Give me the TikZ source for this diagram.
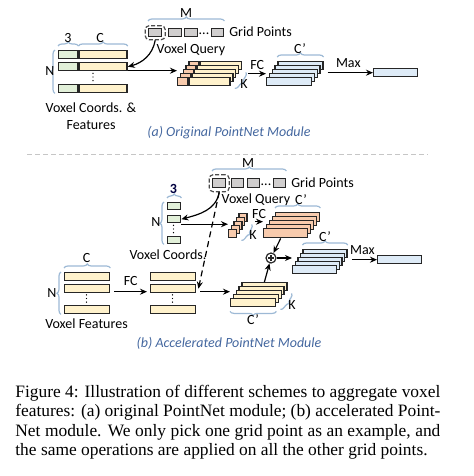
\documentclass[tikz,border=0pt]{standalone}
\usepackage{fontspec}
\setmainfont{Liberation Serif}
\setsansfont{Carlito}
\usepackage{xcolor}
\usepackage{tikz}
\usetikzlibrary{arrows.meta,decorations.pathreplacing}

\definecolor{featcol}{HTML}{FFF2CC}
\definecolor{coordcol}{HTML}{E2F0D9}
\definecolor{querycol}{HTML}{F8CBAD}
\definecolor{outcol}{HTML}{DEEBF7}
\definecolor{gridcol}{HTML}{D0CECE}
\definecolor{bracecol}{HTML}{9DB9D5}
\definecolor{capcol}{HTML}{44679F}
\newcommand{\pxu}{0.5pt}

\tikzset{
	box/.style={draw=black!85, line width=0.7pt, inner sep=0pt, anchor=north west},
	bar/.style 2 args={box, minimum width=#1*\pxu, minimum height=#2*\pxu},
	qbox/.style={draw=black!70, dash pattern=on 2pt off 1pt, line width=0.6pt, rounded corners=2pt, minimum width=20*\pxu, minimum height=14*\pxu, inner sep=0pt},
	lbl/.style={font=\sffamily\fontsize{7}{8.5}\selectfont, inner sep=0pt},
	brc/.style={decorate, decoration={brace, amplitude=2pt}, draw=bracecol, line width=0.6pt},
	arr/.style={->, line width=0.6pt},
	dotsv/.style={inner sep=0pt, minimum width=2pt, minimum height=6pt, path picture={\foreach \k in {-1,0,1} \fill ([yshift=\k*1.8pt]path picture bounding box.center) circle (0.35pt);}},
	plus/.style={circle, draw=black!85, line width=0.6pt, minimum size=10*\pxu, inner sep=0pt, path picture={\draw[line width=0.6pt] ([xshift=-1.5pt]path picture bounding box.center) -- ([xshift=1.5pt]path picture bounding box.center) ([yshift=-1.5pt]path picture bounding box.center) -- ([yshift=1.5pt]path picture bounding box.center);}}
}

\begin{document}
\begin{tikzpicture}[x=0.5pt, y=-0.5pt, >={Stealth[length=3.5pt,width=3pt]}]
	\useasboundingbox (0,0) rectangle (474,476);
	% (a) original module
	\foreach \k/\yy in {1/50, 2/62, 3/84} {
		\node[bar={19}{8}, fill=coordcol] (ca\k) at (58,\yy) {};
		\node[bar={48}{8}, fill=featcol] (fa\k) at (ca\k.north east) {};
	}
	\node[dotsv] (da) at (93,77) {};
	\draw[brc] ([yshift=2pt]ca1.north west) -- ([yshift=2pt]ca1.north east);
	\draw[brc] ([yshift=2pt]fa1.north west) -- ([yshift=2pt]fa1.north east);
	\node[lbl] (la3) at (68,38) {3};
	\node[lbl] (lac) at (100,38) {C};
	\draw[brc] ([xshift=-1.5pt]ca3.south west) -- ([xshift=-1.5pt]ca1.north west);
	\node[lbl] (lan) at (50,71) {N};
	\node[lbl, align=center] (lavc) at (91,116) {Voxel Coords. \&\\Features};

	\node[bar={13}{8}, fill=gridcol] (ga1) at (148,28) {};
	\node[bar={13}{8}, fill=gridcol] (ga2) at (168,28) {};
	\node[bar={13}{8}, fill=gridcol] (ga3) at (184,28) {};
	\node[lbl] (gad) at (204,34) {...};
	\node[bar={12}{8}, fill=gridcol] (ga4) at (211,28) {};
	\node[qbox] (qa) at (ga1.center) {};
	\draw[brc] ([yshift=3.5pt]ga1.north west) -- ([yshift=3.5pt]ga4.north east);
	\node[lbl] (lam) at (186,13) {M};
	\node[lbl, anchor=west] (lagp) at (229,32) {Grid Points};
	\node[lbl] (lavq) at (191,50) {Voxel Query};

	\foreach \i in {5,4,...,1} {
		\node[bar={10}{8}, fill=querycol] (sk\i) at ({177+2.8*(\i-1)},{77-4*(\i-1)}) {};
		\node[bar={41}{8}, fill=featcol] (sf\i) at (sk\i.north east) {};
	}
	\draw[brc] ([shift={(2pt,-1pt)}]sf5.south east) -- ([shift={(2pt,-1pt)}]sf1.south east);
	\node[lbl] (lak) at (244,84) {K};

	\foreach \i in {5,4,...,1}
		\node[bar={45}{8}, fill=outcol] (bo\i) at ({266+2.8*(\i-1)},{77-4*(\i-1)}) {};
	\draw[brc] ([yshift=2pt]bo5.north west) -- ([yshift=2pt]bo5.north east);
	\node[lbl] (lacp) at (300,49) {C'};
	\node[bar={44}{8}, fill=outcol] (ra) at (373,68) {};

	\draw[arr] (qa.south) to[out=-100, in=15] (fa2.east);
	\draw[arr] ([yshift=-2pt]fa2.east) -- ([yshift=-2pt]fa2.east -| sk1.west);
	\draw[arr] ([xshift=6pt]sf3.east) -- node[lbl, above=2pt] (lafc) {FC} (sf3.east -| bo1.west);
	\draw[arr, shorten <=2pt] (bo5.east |- ra.west) -- node[lbl, above=2pt] (lamax) {Max} (ra.west);
	\node[lbl, font=\sffamily\itshape\fontsize{7}{8}\selectfont, text=capcol] (capa) at (229,133) {(a) Original PointNet Module};

	\draw[gray!45, line width=0.5pt, dash pattern=on 2.5pt off 1.5pt] (27,154) -- (428,154);

	% (b) accelerated module
	\node[bar={13}{9}, fill=gridcol] (gb1) at (212,178) {};
	\node[bar={12}{9}, fill=gridcol] (gb2) at (231,178) {};
	\node[bar={12}{9}, fill=gridcol] (gb3) at (247,178) {};
	\node[lbl] (gbd) at (266,185) {...};
	\node[bar={12}{9}, fill=gridcol] (gb4) at (273,178) {};
	\node[qbox, minimum height=17*\pxu] (qb) at (gb1.center) {};
	\draw[brc] ([yshift=3.5pt]gb1.north west) -- ([yshift=3.5pt]gb4.north east);
	\node[lbl] (lbm) at (248,163) {M};
	\node[lbl, anchor=west] (lbgp) at (291,183) {Grid Points};
	\node[lbl] (lbvq) at (256,200) {Voxel Query};

	\foreach \k/\yy in {1/202, 2/215, 3/236}
		\node[bar={13}{7}, fill=coordcol] (cb\k) at (167,\yy) {};
	\node[dotsv] (db) at (173.5,229) {};
	\draw[brc] ([yshift=2pt]cb1.north west) -- ([yshift=2pt]cb1.north east);
	\node[lbl, text=blue!25!black] (lb3) at (173.5,189) {\textbf{3}};
	\draw[brc] ([xshift=-1.5pt]cb3.south west) -- ([xshift=-1.5pt]cb1.north west);
	\node[lbl] (lbn) at (156,222) {N};
	\node[lbl] (lbvc) at (168,255) {Voxel Coords.};

	\foreach \i in {5,4,...,1}
		\node[bar={8}{8}, fill=querycol] (ob\i) at ({228+2.6*(\i-1)},{229-4*(\i-1)}) {};
	\draw[brc] ([shift={(2pt,-1pt)}]ob5.south east) -- ([shift={(2pt,-1pt)}]ob1.south east);
	\node[lbl] (lbk) at (253,235) {K};

	\foreach \i in {5,4,...,1}
		\node[bar={44}{9}, fill=querycol] (fo\i) at ({263+3*(\i-1)},{228-4*(\i-1)}) {};
	\draw[brc] ([yshift=2pt]fo5.north west) -- ([yshift=2pt]fo5.north east);
	\node[lbl] (lbcp) at (301,200) {C'};

	\node[plus] (pl) at (271,258) {};

	\foreach \i in {5,4,...,1}
		\node[bar={44}{8}, fill=outcol] (bb\i) at ({292+2.6*(\i-1)},{265-4*(\i-1)}) {};
	\draw[brc] ([yshift=2pt]bb5.north west) -- ([yshift=2pt]bb5.north east);
	\node[lbl] (lbcp2) at (325,237) {C'};
	\node[bar={44}{8}, fill=outcol] (rb) at (377,255) {};

	\foreach \k/\yy in {1/272, 2/284, 3/305} {
		\node[bar={45}{8}, fill=featcol] (fl\k) at (64,\yy) {};
		\node[bar={45}{8}, fill=featcol] (fm\k) at (150,\yy) {};
	}
	\node[dotsv] (dl) at (86.5,298.5) {};
	\node[dotsv] (dm) at (172.5,298.5) {};
	\draw[brc] ([yshift=2pt]fl1.north west) -- ([yshift=2pt]fl1.north east);
	\node[lbl] (lbc) at (86.5,258) {C};
	\draw[brc] ([xshift=-1.5pt]fl3.south west) -- ([xshift=-1.5pt]fl1.north west);
	\node[lbl] (lbn2) at (52,293) {N};
	\node[lbl] (lbvf) at (86.5,324) {Voxel Features};

	\foreach \i in {5,4,...,1}
		\node[bar={45}{8}, fill=featcol] (fy\i) at ({230+2.8*(\i-1)},{298-4*(\i-1)}) {};
	\draw[brc] ([yshift=-2pt]fy1.south east) -- ([yshift=-2pt]fy1.south west);
	\node[lbl] (lbcp3) at (253,320) {C'};
	\draw[brc] ([shift={(2pt,-1pt)}]fy5.south east) -- ([shift={(2pt,-1pt)}]fy1.south east);
	\node[lbl] (lbk2) at (292,305) {K};

	\draw[arr] (qb.south) to[out=-100, in=15] (cb2.east);
	\draw[arr] ([yshift=-2.5pt]cb2.east) -- ([yshift=-2.5pt]cb2.east -| ob1.west);
	\draw[arr] ([xshift=5pt]ob4.east) -- node[lbl, above=1.5pt] (lbfc) {FC} (ob4.east -| fo1.west);
	\draw[arr] ([xshift=-2.5pt]fo1.south) -- (pl);
	\draw[arr] (pl) -- (pl -| bb1.west);
	\draw[arr, shorten <=2pt] (bb5.east |- rb.west) -- node[lbl, above=2pt] (lbmax) {Max} (rb.west);
	\draw[arr] ([shift={(2pt,-1.5pt)}]fl2.east) -- node[lbl, above=3pt] (lbfc2) {FC} ([shift={(-1.5pt,-1.5pt)}]fm2.west);
	\draw[arr, dash pattern=on 3pt off 2pt] (qb.south) -- ([xshift=1pt]fm2.east);
	\draw[arr] ([shift={(2pt,-1.5pt)}]fm2.east) -- ([yshift=-1.5pt]fm2.east -| fy1.west);
	\draw[arr] (fy5.north) -- (pl);
	\node[lbl, font=\sffamily\itshape\fontsize{7}{8}\selectfont, text=capcol] (capb) at (229,343) {(b) Accelerated PointNet Module};

	\node[anchor=north west, inner sep=0pt, text width=212.5pt, align=justify, font=\fontsize{8.7}{9.65}\selectfont] (cap) at (15,385) {Figure 4: Illustration of different schemes to aggregate voxel\linebreak features: (a) original PointNet module; (b) accelerated Point-\linebreak Net module. We only pick one grid point as an example, and\linebreak the same operations are applied on all the other grid points.};
\end{tikzpicture}
\end{document}
